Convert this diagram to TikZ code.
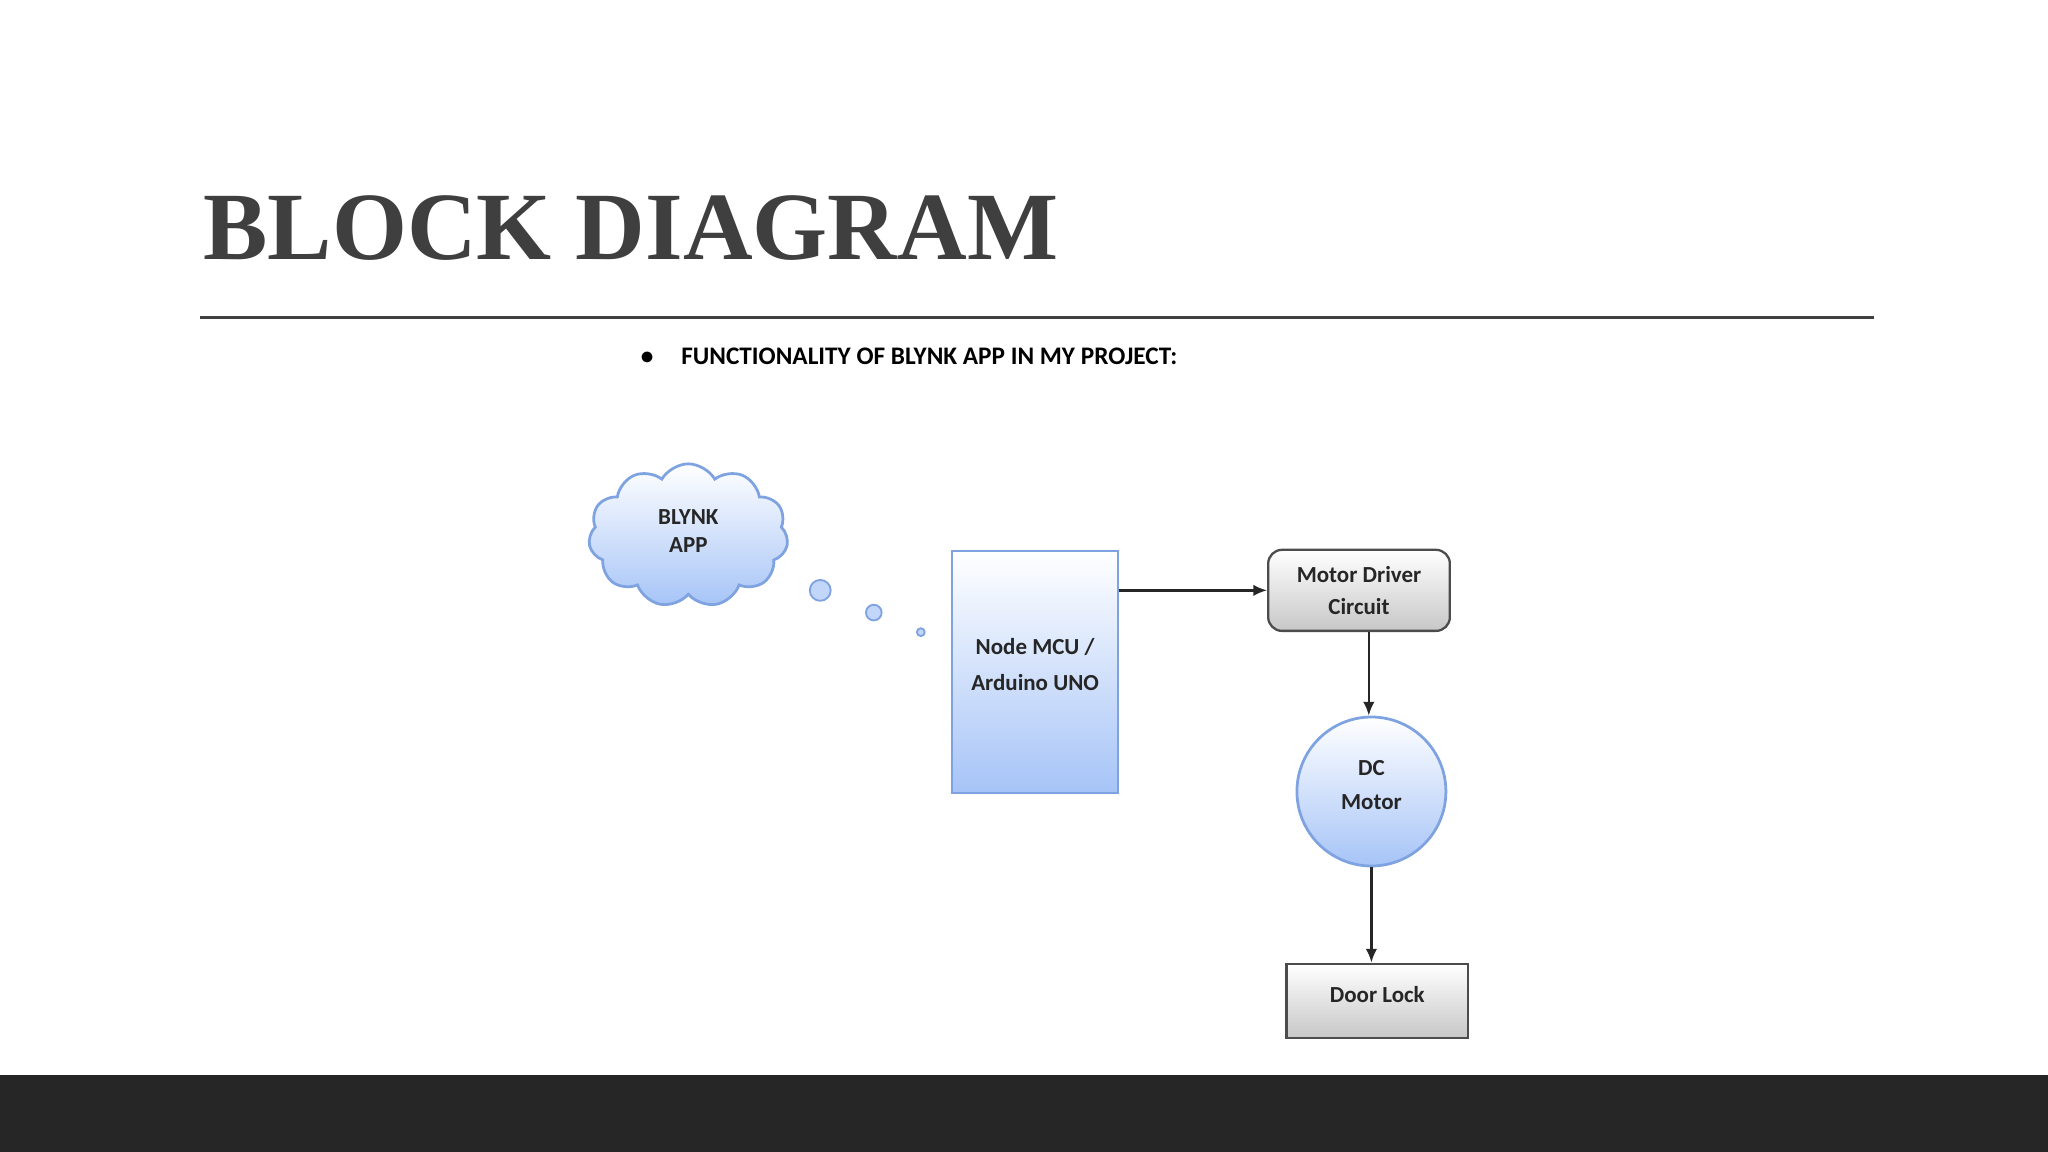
\documentclass[tikz,border=0pt]{standalone}
\usepackage{fontspec}
\setmainfont{Carlito}
\newfontfamily\titlefont{Liberation Serif}
\usetikzlibrary{shapes.symbols,arrows.meta}
\definecolor{band}{HTML}{262626}
\definecolor{ttl}{HTML}{3F3F3F}
\definecolor{lb}{HTML}{A6C4F7}
\definecolor{edge}{HTML}{7FA3E0}
\tikzset{
  lbl/.style={font=\bfseries\fontsize{5pt}{7pt}\selectfont, text=black!85, align=center},
  graybox/.style={draw=black!70, line width=0.5pt, top color=white, bottom color=black!22, lbl},
  conn/.style={-{Latex[length=3pt,width=2.5pt]}, line width=0.5pt, black!85},
}
\begin{document}
\begin{tikzpicture}[x=0.01cm,y=-0.01cm]
\useasboundingbox (0,0) rectangle (1568,882);
\fill[band] (0,823) rectangle (1568,882);
\node[anchor=base west, inner sep=0, text=ttl, font=\titlefont\bfseries\fontsize{21pt}{25pt}\selectfont] (title) at (155,199) {BLOCK DIAGRAM};
\draw[black!75, line width=0.6pt] (153,243) -- (1435,243);
\node[anchor=base west, inner sep=0, font=\bfseries\fontsize{5.5pt}{6.5pt}\selectfont] (bul) at (490,279) {\textbullet\hspace{1.1em}FUNCTIONALITY OF BLYNK APP IN MY PROJECT:};
% cloud
\node[cloud, cloud puffs=11, cloud puff arc=120, aspect=1.6, minimum width=1.5cm, minimum height=0.95cm, draw=edge, line width=0.6pt, top color=white, bottom color=lb, lbl] (blynk) at (527,410) {\raisebox{0.8ex}{\shortstack{BLYNK\\APP}}};
\draw[draw=edge, fill=lb!70] (628,452) circle (8);
\draw[draw=edge, fill=lb!70] (669,469) circle (6);
\draw[draw=edge, fill=lb!70] (705,484) circle (3);
% MCU
\node[draw=edge, line width=0.6pt, top color=white, bottom color=lb, minimum width=1.27cm, minimum height=1.85cm, lbl, inner sep=0] (mcu) at (792.5,514.5) {\raisebox{1.4ex}{\shortstack{Node MCU /\\[1pt]Arduino UNO}}};
% motor driver
\node[graybox, minimum width=1.39cm, minimum height=0.62cm, rounded corners=3pt, inner sep=0] (drv) at (1040.5,452) {Motor Driver\\Circuit};
% DC motor
\node[circle, draw=edge, line width=0.6pt, top color=white, bottom color=lb, minimum size=1.14cm, lbl, inner sep=0] (dc) at (1050,606) {\raisebox{1.2ex}{\shortstack{DC\\[1pt]Motor}}};
% door lock
\node[graybox, minimum width=1.39cm, minimum height=0.57cm, inner sep=0, anchor=north] (lock) at (1054.5,737) {\raisebox{1.2ex}{Door Lock}};
\draw[conn] (mcu.east |- drv.west) -- (drv.west);
\draw[conn] (drv.south -| dc.north) ++(-2,0) coordinate (s1) (s1) -- (s1 |- dc.north);
\draw[conn] (dc.south) -- (dc.south |- lock.north);
\end{tikzpicture}
\end{document}
